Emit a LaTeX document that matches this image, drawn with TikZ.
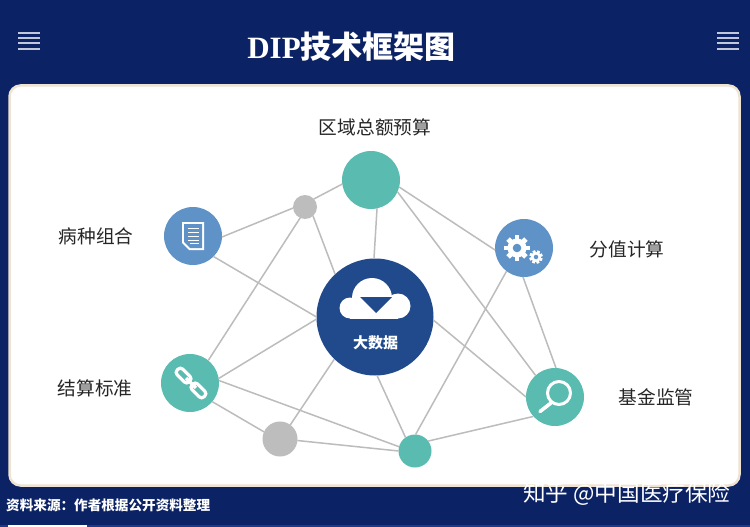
\documentclass[tikz,border=0pt]{standalone}
\usepackage{fontspec}
\setmainfont{Noto Sans CJK SC}
\newfontfamily\latinserif{Liberation Serif}
\definecolor{navy}{HTML}{0B2265}
\definecolor{band}{HTML}{1E3A86}
\definecolor{cream}{HTML}{EFE3D2}
\definecolor{tealc}{HTML}{5ABBB0}
\definecolor{bluec}{HTML}{5F93C7}
\definecolor{darkc}{HTML}{204A8C}
\definecolor{grayc}{HTML}{BDBDBD}
\definecolor{linec}{HTML}{BCBCBC}
\tikzset{
  dot/.style={circle,inner sep=0pt,outer sep=0pt,minimum size=#1},
  link/.style={draw=linec,line width=1.5pt},
  label/.style={font=\fontsize{18.7}{20}\selectfont,text=black!85,inner sep=0pt},
  burger/.style={draw=white!75!navy,line width=1.1pt}
}
\newcommand{\gearicon}[4]{%
  \begin{scope}[shift={(#1,#2)}]
    \foreach \a in {0,45,...,315}
      \fill[white,rotate=\a+#4] (-#3*0.26,-#3*1.32) rectangle (#3*0.26,#3*1.32);
    \fill[white] (0,0) circle (#3);
    \fill[bluec] (0,0) circle (#3*0.45);
  \end{scope}}
\begin{document}
\begin{tikzpicture}[x=1pt,y=-1pt]
\useasboundingbox (0,0) rectangle (750,527);
\fill[navy] (0,0) rectangle (750,527);
\fill[band] (0,525) rectangle (750,527);
\fill[white] (8,525) rectangle (87,527);
\fill[white,draw=cream,line width=2.5pt,rounded corners=11pt] (9.5,85.5) rectangle (739.5,485.5);
% menu icons
\foreach \yy in {33,38,43,49}{
  \coordinate (ml) at (18,\yy); \coordinate (mr) at (40,\yy);
  \draw[burger] (ml) -- (mr);
  \coordinate (nl) at (717,\yy); \coordinate (nr) at (739,\yy);
  \draw[burger] (nl) -- (nr);
}
\node[text=white,inner sep=0pt] (title) at (351.5,47) {\fontsize{31}{34}\selectfont\bfseries{\latinserif DIP}技术框架图};
% network nodes
\node[dot=58pt,fill=tealc] (budget) at (371,180) {};
\node[dot=24pt,fill=grayc] (gtop) at (305,207) {};
\node[dot=58pt,fill=bluec] (disease) at (193,236) {};
\node[dot=58pt,fill=bluec] (value) at (524,248) {};
\node[dot=117pt,fill=darkc] (data) at (375,317) {};
\node[dot=58pt,fill=tealc] (settle) at (190,383) {};
\node[dot=58pt,fill=tealc] (fund) at (555,397) {};
\node[dot=35pt,fill=grayc] (gbot) at (280,439) {};
\node[dot=33pt,fill=tealc] (tbot) at (415,451) {};
% connectors: border angles are page angles
\foreach \p/\pa/\q/\qa in {
  disease/-45/data/180,
  disease/-2/gtop/185,
  gtop/42/budget/188,
  gtop/-48/data/133,
  gtop/-114/settle/51,
  budget/-78/data/91,
  budget/-14/value/184,
  budget/-24/fund/132,
  value/233/tbot/88,
  value/-92/fund/88,
  data/-3/fund/180,
  data/182/settle/9,
  data/226/gbot/54,
  data/-88/tbot/125,
  settle/5/tbot/165,
  settle/-40/gbot/156,
  gbot/-5/tbot/180,
  tbot/37/fund/222}
  \draw[link] (\p.\pa) -- (\q.\qa);
% labels
\node[label] (l1) at (375,127) {区域总额预算};
\node[label] (l2) at (96,236) {病种组合};
\node[label] (l3) at (627,249) {分值计算};
\node[label] (l4) at (95,388) {结算标准};
\node[label] (l5) at (656,397) {基金监管};
% cloud icon
\fill[white] (350,308) circle (10.5) (372,298) circle (20) (398,306) circle (12.5);
\fill[white] (350,298) rectangle (398,318.5);
\fill[darkc] (360,297) -- (392,297) -- (376,313) -- cycle;
\node[text=white,inner sep=0pt] (datatext) at (375.5,343) {\fontsize{15}{16}\selectfont\bfseries 大数据};
% document icon
\fill[white] (182,222) -- (204,222) -- (204,250) -- (189,250) -- (182,243) -- cycle;
\fill[bluec] (184,224) -- (202,224) -- (202,248) -- (190,248) -- (184,242) -- cycle;
\foreach \yy in {228,232,236,240}\draw[white,line width=.9pt] (188,\yy) -- (199,\yy);
\draw[white,line width=.9pt] (190,243.5) -- (199,243.5);
% gear icon
\gearicon{517}{248}{9.5}{0}
\gearicon{536}{257}{5}{20}
% chain icon
\begin{scope}[shift={(191,383)},rotate=-45]
  \draw[white,line width=3.2pt,rounded corners=3.5pt] (-2,-4) rectangle (-19,4);
  \draw[white,line width=3.2pt,rounded corners=3.5pt] (2,-4) rectangle (19,4);
  \draw[white,line width=3.2pt] (-7,0) -- (7,0);
\end{scope}
% magnifier icon
\draw[white,line width=3pt] (559,393) circle (11.5);
\draw[white,line width=3.6pt,line cap=round] (551,403) -- (540,411.5);
% footer
\node[text=white,inner sep=0pt,anchor=west] (src) at (6,505) {\fontsize{13.6}{15}\selectfont\bfseries 资料来源：作者根据公开资料整理};
\node[text=white,inner sep=0pt,anchor=west] (wm) at (523,494) {\fontsize{22.6}{24}\selectfont 知乎 @中国医疗保险};
\end{tikzpicture}
\end{document}
